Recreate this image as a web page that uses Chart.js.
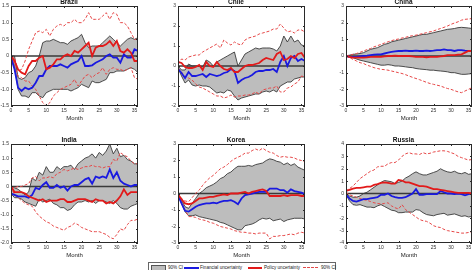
<!DOCTYPE html>
<html>
<head>
<meta charset="utf-8">
<script src="https://cdn.jsdelivr.net/npm/chart.js@4.4.1/dist/chart.umd.min.js"></script>
<style>
body{margin:0;background:#fff;width:474px;height:270px;overflow:hidden;position:relative;font-family:"Liberation Sans",Arial,sans-serif}
canvas{position:absolute}
#legend{position:absolute;left:148px;top:262px;width:186px;height:10px;border:1px solid #666;background:#fff;font-size:4.6px;color:#222;white-space:nowrap}
#legend span{position:absolute;top:2px}
#legend i{position:absolute;display:block}
</style>
</head>
<body>
<canvas id="c1" width="140" height="124" style="left:0;top:-2px"></canvas>
<canvas id="c2" width="140" height="124" style="left:167px;top:-2px"></canvas>
<canvas id="c3" width="139" height="124" style="left:335px;top:-2px"></canvas>
<canvas id="c4" width="140" height="123" style="left:0;top:136px"></canvas>
<canvas id="c5" width="140" height="123" style="left:167px;top:136px"></canvas>
<canvas id="c6" width="139" height="123" style="left:335px;top:136px"></canvas>
<div id="legend">
  <i style="left:2px;top:2px;width:13px;height:4px;background:#bdbdbd;border:1px solid #555"></i><span style="left:19px">90% CI</span>
  <i style="left:35px;top:4px;width:15px;height:1.6px;background:#1a1ae0"></i><span style="left:51px">Financial uncertainty</span>
  <i style="left:99px;top:4px;width:14px;height:1.6px;background:#e21a1a"></i><span style="left:115px">Policy uncertainty</span>
  <i style="left:154px;top:4px;width:15px;height:0;border-top:1px dashed #e24a4a"></i><span style="left:172px">90% CI</span>
</div>
<script>
const months = [0,1,2,3,4,5,6,7,8,9,10,11,12,13,14,15,16,17,18,19,20,21,22,23,24,25,26,27,28,29,30,31,32,33,34,35,36];
const xTicks = [0,5,10,15,20,25,30,35];

// Brazil
const brazilRange = [-1.5, 1.5, 0.5];
const brazilUpper = [0,0,-0.65,-0.7,-0.65,-0.5,-0.45,-0.3,0,0.4,0.45,0.45,0.5,0.45,0.4,0.4,0.35,0.45,0.5,0.55,0.65,0.4,0.25,0.3,0.3,0.3,0.4,0.5,0.6,0.5,0.4,0.3,0.4,0.5,0.55,0.5,0.55];
const brazilLower = [0,-0.3,-1.0,-1.2,-1.2,-1.25,-1.1,-1.1,-1.2,-1.25,-1.1,-1.05,-1.0,-1.0,-1.0,-1.0,-1.0,-1.05,-1.0,-0.95,-0.85,-0.9,-0.95,-0.75,-0.8,-0.8,-0.75,-0.7,-0.5,-0.5,-0.45,-0.45,-0.45,-0.4,-0.35,-0.4,-0.5];
const brazilFin = [-0.05,-0.4,-0.95,-1.05,-0.95,-1.0,-0.95,-0.8,-0.6,-0.6,-0.4,-0.3,-0.3,-0.3,-0.25,-0.3,-0.35,-0.25,-0.2,-0.15,0,-0.3,-0.3,-0.28,-0.2,-0.15,-0.1,0,0.05,-0.05,-0.05,-0.2,0.05,-0.05,-0.05,0.2,0.15];
const brazilPol = [0,-0.15,-0.4,-0.5,-0.55,-0.3,-0.15,-0.15,-0.05,0,-0.4,-0.35,-0.25,-0.1,-0.1,0,0.05,0,0.15,0.1,0.2,0.3,0.4,0,0.25,0.3,0.3,0.35,0.45,0.3,0.45,0.15,0.1,0.2,0.1,-0.15,-0.15];
const brazilPolHi = [0,-0.05,-0.45,-0.4,-0.15,0.2,0.45,0.7,0.75,0.7,0.8,0.6,0.8,0.9,0.95,0.9,1.0,1.0,1.1,1.0,1.0,1.1,1.3,1.1,1.1,1.1,1.2,1.3,1.1,1.3,1.25,1.0,1.0,0.9,0.7,0.5,0.5];
const brazilPolLo = [0,-0.3,-0.6,-0.65,-0.75,-0.75,-0.9,-1.0,-1.2,-1.4,-1.5,-1.4,-1.2,-1.1,-1.0,-0.95,-0.9,-0.85,-0.7,-0.9,-0.75,-0.6,-0.55,-0.65,-0.55,-0.5,-0.35,-0.55,-0.4,-0.35,-0.4,-0.4,-0.45,-0.4,-0.35,-0.65,-0.7];

// Chile
const chileRange = [-2, 3, 1];
const chileUpper = [0,-0.2,-0.2,0.1,0,0,0,-0.05,0.3,0.2,0,0.2,0.3,0.4,0.5,0.6,0.7,0,0.3,0.6,0.7,0.8,0.9,0.85,0.9,0.9,0.9,0.85,0.75,1.0,1.5,1.2,1.5,1.2,1.3,1.05,1.0];
const chileLower = [-0.1,-0.5,-0.85,-0.7,-0.95,-1.0,-0.95,-1.0,-1.0,-1.05,-1.2,-1.35,-1.3,-1.35,-1.2,-1.25,-1.5,-1.7,-1.6,-1.55,-1.5,-1.45,-1.4,-1.4,-1.3,-1.25,-1.3,-1.2,-1.3,-1.0,-0.9,-0.8,-0.8,-0.65,-0.6,-0.55,-0.55];
const chileFin = [-0.15,-0.35,-0.6,-0.3,-0.5,-0.5,-0.45,-0.4,-0.55,-0.4,-0.45,-0.5,-0.45,-0.35,-0.3,-0.15,-0.25,-0.85,-0.7,-0.6,-0.55,-0.45,-0.3,-0.25,-0.25,-0.2,-0.2,-0.15,-0.3,0.2,0.5,0,0.4,0.5,0.25,0.35,0.25];
const chilePol = [0.2,0.15,-0.05,-0.1,-0.1,-0.05,0.05,-0.2,0.2,0,-0.05,0.2,0,-0.15,-0.2,-0.1,-0.3,-0.3,-0.15,0,0.05,0.05,0.1,0.15,0.3,0.4,0.35,0.3,0.6,0.7,0.3,0.35,0.5,0.4,0.6,0.65,0.4];
const chilePolHi = [0.1,0.35,0.3,0.45,0.5,0.55,0.55,0.7,0.8,0.9,1.0,1.1,0.9,1.3,1.15,1.05,1.2,1.1,1.05,1.3,1.4,1.45,1.5,1.6,1.65,1.7,1.75,1.85,1.85,2.1,1.9,1.7,1.75,1.65,1.8,1.8,1.7];
const chilePolLo = [-0.1,-0.3,-0.55,-0.6,-0.7,-0.9,-1.05,-1.1,-1.2,-1.3,-1.4,-1.5,-1.5,-1.6,-1.55,-1.45,-1.55,-1.5,-1.5,-1.45,-1.45,-1.4,-1.3,-1.4,-1.2,-1.15,-1.1,-1.1,-1.0,-1.3,-1.3,-1.1,-1.05,-0.9,-0.8,-0.5,-0.55];

// China
const chinaRange = [-3, 3, 1];
const chinaUpper = [0,0.05,0.1,0.12,0.15,0.2,0.3,0.4,0.45,0.5,0.6,0.7,0.75,0.85,0.9,0.95,1.0,1.05,1.1,1.15,1.2,1.25,1.3,1.3,1.35,1.4,1.45,1.5,1.55,1.6,1.62,1.65,1.7,1.72,1.7,1.68,1.65];
const chinaLower = [0,-0.05,-0.1,-0.18,-0.25,-0.3,-0.35,-0.4,-0.45,-0.5,-0.55,-0.55,-0.52,-0.55,-0.6,-0.6,-0.62,-0.65,-0.68,-0.7,-0.75,-0.78,-0.8,-0.82,-0.85,-0.85,-0.88,-0.9,-0.92,-0.95,-1.0,-1.0,-1.05,-1.1,-1.1,-1.08,-1.05];
const chinaFin = [0,-0.05,-0.05,-0.05,-0.02,0,0.02,0.05,0.08,0.1,0.1,0.15,0.2,0.25,0.28,0.3,0.3,0.32,0.3,0.3,0.32,0.3,0.3,0.32,0.3,0.32,0.35,0.35,0.4,0.35,0.35,0.3,0.35,0.35,0.32,0.3,0.3];
const chinaPol = [0,-0.05,-0.1,-0.1,-0.1,-0.1,-0.08,-0.05,-0.05,-0.05,-0.05,-0.02,0,0,0.02,0,0,0,0,-0.02,-0.05,-0.05,-0.05,-0.08,-0.05,-0.05,-0.05,-0.02,0,0.05,0.05,0.05,0.08,0.1,0.2,0.3,0.3];
const chinaPolHi = [0,0.05,0.1,0.15,0.22,0.3,0.38,0.45,0.55,0.62,0.7,0.78,0.85,0.92,0.98,1.02,1.08,1.12,1.18,1.22,1.25,1.3,1.35,1.4,1.45,1.5,1.58,1.65,1.72,1.8,1.9,1.98,2.05,2.15,2.2,2.22,2.25];
const chinaPolLo = [0,-0.1,-0.2,-0.3,-0.4,-0.45,-0.55,-0.62,-0.7,-0.75,-0.8,-0.82,-0.85,-0.9,-0.95,-1.0,-1.05,-1.12,-1.2,-1.28,-1.35,-1.42,-1.5,-1.58,-1.65,-1.7,-1.75,-1.8,-1.88,-1.95,-2.0,-2.08,-2.15,-2.2,-2.1,-2.0,-1.9];

// India
const indiaRange = [-2, 1.5, 0.5];
const indiaUpper = [0,-0.05,-0.1,-0.2,-0.3,-0.2,0.3,0.2,0.5,0.4,0.7,0.5,0.5,0.7,0.6,0.7,0.7,0.75,0.6,0.8,0.9,1.0,1.05,1.15,1.0,1.2,1.1,1.25,1.5,1.15,1.35,1.05,1.1,0.95,0.9,0.8,0.8];
const indiaLower = [-0.25,-0.4,-0.4,-0.45,-0.55,-0.6,-0.65,-0.7,-0.45,-0.55,-0.5,-0.45,-0.6,-0.65,-0.75,-0.75,-0.85,-0.8,-0.65,-0.55,-0.55,-0.5,-0.55,-0.5,-0.6,-0.5,-0.5,-0.55,-0.6,-0.5,-0.6,-0.75,-0.8,-0.8,-0.7,-0.65,-0.6];
const indiaFin = [-0.25,-0.3,-0.35,-0.35,-0.35,-0.4,-0.3,-0.05,-0.1,0.05,0.15,-0.05,-0.05,0.05,-0.05,0,-0.15,0,0.05,0.05,0.15,0.25,0.3,0.1,0.35,0.3,0.35,0.3,0.6,0.3,0.5,0.2,0.1,0.05,0,0.05,0.05];
const indiaPol = [0,-0.2,-0.2,-0.2,-0.25,-0.35,-0.4,-0.45,-0.5,-0.45,-0.55,-0.5,-0.5,-0.5,-0.45,-0.45,-0.55,-0.55,-0.5,-0.45,-0.45,-0.45,-0.5,-0.55,-0.45,-0.5,-0.5,-0.6,-0.55,-0.6,-0.5,-0.35,-0.1,-0.3,-0.2,-0.2,-0.2];
const indiaPolHi = [0,-0.05,0,0,0.05,0.1,0.3,0.35,0.2,0.3,0.3,0.35,0.3,0.45,0.5,0.6,0.55,0.6,0.65,0.6,0.65,0.7,0.7,0.75,0.7,0.7,0.65,0.7,0.7,0.95,0.9,1.2,1.1,1.05,0.9,0.8,0.8];
const indiaPolLo = [0,-0.3,-0.4,-0.5,-0.6,-0.65,-0.7,-0.9,-1.05,-1.15,-1.25,-1.3,-1.4,-1.45,-1.5,-1.55,-1.45,-1.4,-1.3,-1.35,-1.45,-1.5,-1.55,-1.6,-1.6,-1.6,-1.65,-1.7,-1.8,-1.85,-1.7,-1.5,-1.55,-1.35,-1.2,-1.2,-1.15];

// Korea
const koreaRange = [-3, 3, 1];
const koreaUpper = [0,-0.4,-0.8,-0.9,-0.6,-0.3,0,0.15,0.35,0.45,0.55,0.7,0.9,1.0,1.2,1.3,1.5,1.65,1.65,1.65,1.7,1.65,1.75,1.8,1.85,2.0,2.1,2.05,1.95,1.9,1.75,1.85,1.7,1.8,1.6,1.5,1.4];
const koreaLower = [-0.1,-0.6,-1.1,-1.35,-1.35,-1.3,-1.4,-1.45,-1.5,-1.55,-1.6,-1.65,-1.75,-1.8,-1.9,-2.0,-2.1,-2.2,-2.2,-1.95,-1.9,-1.85,-1.75,-1.6,-1.5,-1.55,-1.5,-1.65,-1.6,-1.55,-1.7,-1.6,-1.55,-1.5,-1.5,-1.5,-1.55];
const koreaFin = [-0.1,-0.6,-1.05,-1.1,-0.95,-0.8,-0.7,-0.65,-0.6,-0.6,-0.55,-0.6,-0.5,-0.45,-0.45,-0.4,-0.5,-0.65,-0.3,-0.1,-0.05,0,0.05,0.1,0.1,0.1,0.3,0.3,0.3,0.2,0.2,0.05,0.25,0.15,0.1,0.05,-0.05];
const koreaPol = [-0.05,-0.35,-0.6,-0.65,-0.6,-0.45,-0.3,-0.3,-0.25,-0.2,-0.2,-0.15,-0.1,-0.05,-0.1,0,0,0,0.05,0.1,0,0.1,0.15,0.2,0.25,0.15,-0.15,-0.15,-0.15,-0.15,-0.1,-0.15,-0.1,-0.1,-0.1,-0.15,-0.15];
const koreaPolHi = [0,-0.3,-0.45,-0.5,-0.25,0,0.2,0.5,0.75,0.95,1.1,1.3,1.5,1.6,1.75,1.95,2.1,2.2,2.3,2.45,2.45,2.6,2.7,2.6,2.75,2.6,2.5,2.45,2.3,2.2,2.25,2.2,2.2,2.15,2.05,2.0,1.9];
const koreaPolLo = [-0.1,-0.5,-1.0,-1.4,-1.4,-1.45,-1.55,-1.6,-1.65,-1.75,-1.8,-1.9,-2.0,-2.05,-2.1,-2.15,-2.25,-2.3,-2.35,-2.35,-2.4,-2.4,-2.45,-2.4,-2.4,-2.4,-2.75,-2.6,-2.6,-2.55,-2.55,-2.5,-2.45,-2.5,-2.4,-2.35,-2.4];

// Russia
const russiaRange = [-4, 4, 1];
const russiaUpper = [0,-0.2,-0.3,-0.3,-0.2,0,0.1,0.3,0.5,0.7,0.9,1.05,1.0,0.95,0.8,0.9,1.0,1.25,1.4,1.6,1.75,1.6,1.5,1.5,1.6,1.7,1.8,2.0,1.85,1.75,1.7,1.8,1.65,1.6,1.7,1.55,1.6];
const russiaLower = [-0.1,-0.6,-0.9,-0.95,-0.9,-1.0,-1.1,-1.1,-1.15,-1.0,-0.9,-1.05,-1.2,-1.35,-1.4,-1.55,-1.55,-1.5,-1.5,-1.5,-1.3,-1.35,-1.55,-1.7,-1.75,-1.8,-1.7,-1.65,-1.6,-1.75,-1.7,-1.65,-1.75,-1.85,-1.8,-1.9,-1.85];
const russiaFin = [-0.1,-0.4,-0.6,-0.65,-0.55,-0.45,-0.45,-0.4,-0.35,-0.3,-0.1,-0.1,0,-0.2,-0.3,-0.35,-0.35,-0.3,-0.15,0,0.35,-0.1,-0.1,-0.05,-0.05,-0.05,-0.05,0.2,0.1,0,0,-0.05,0,-0.05,-0.15,-0.05,0];
const russiaPol = [0.2,0.3,0.4,0.45,0.45,0.5,0.55,0.55,0.7,0.75,0.85,0.9,0.85,0.8,0.8,1.1,1.05,0.9,0.9,0.8,0.7,0.6,0.6,0.55,0.45,0.35,0.35,0.3,0.25,0.2,0.15,0.1,0.05,0.05,0.05,0.05,0];
const russiaPolHi = [0.2,0.4,0.6,0.9,1.2,1.4,1.6,1.8,1.9,2.15,2.2,2.2,2.4,2.5,2.5,2.7,3.0,3.2,3.3,3.2,3.2,3.15,3.3,3.2,3.25,3.35,3.4,3.45,3.45,3.4,3.3,3.2,3.0,2.9,2.8,2.7,2.75];
const russiaPolLo = [0.1,-0.1,-0.2,-0.3,-0.4,-0.5,-0.55,-0.65,-0.75,-0.8,-0.85,-0.8,-0.75,-1.0,-1.15,-1.25,-0.9,-1.3,-1.5,-1.7,-1.9,-2.1,-2.2,-2.25,-2.4,-2.6,-2.7,-2.75,-2.9,-3.0,-3.05,-3.1,-3.15,-3.2,-3.2,-3.15,-3.1];

const FONT = '"Liberation Sans", Arial, sans-serif';

// box round the plot with inward ticks on all four sides
const framePlugin = {
  id: 'frame',
  afterDatasetsDraw(chart) {
    const {ctx, chartArea: a, scales} = chart;
    ctx.save();
    ctx.strokeStyle = '#2a2a2a';
    ctx.lineWidth = 1;
    ctx.strokeRect(a.left + 0.5, a.top + 0.5, a.right - a.left - 1, a.bottom - a.top - 1);
    ctx.beginPath();
    scales.x.ticks.forEach(t => {
      const px = Math.round(scales.x.getPixelForValue(t.value)) + 0.5;
      ctx.moveTo(px, a.bottom); ctx.lineTo(px, a.bottom - 2);
      ctx.moveTo(px, a.top); ctx.lineTo(px, a.top + 2);
    });
    scales.y.ticks.forEach(t => {
      const py = Math.round(scales.y.getPixelForValue(t.value)) + 0.5;
      ctx.moveTo(a.left, py); ctx.lineTo(a.left + 2, py);
      ctx.moveTo(a.right, py); ctx.lineTo(a.right - 2, py);
    });
    ctx.stroke();
    ctx.restore();
  }
};

function pts(arr) {
  return months.map((m, i) => ({x: m, y: arr[i]}));
}

function panel(id, title, range, upper, lower, fin, pol, polHi, polLo) {
  const zero = [{x: months[0], y: 0}, {x: months[months.length - 1], y: 0}];
  new Chart(document.getElementById(id), {
    type: 'line',
    data: {
      datasets: [
        {data: pts(pol), borderColor: '#e21a1a', borderWidth: 1.8},
        {data: pts(fin), borderColor: '#1a1ae0', borderWidth: 1.8},
        {data: pts(polHi), borderColor: '#e64848', borderWidth: 1, borderDash: [3, 1.8]},
        {data: pts(polLo), borderColor: '#e64848', borderWidth: 1, borderDash: [3, 1.8]},
        {data: zero, borderColor: '#3a3a3a', borderWidth: 1.4},
        {data: pts(lower), borderColor: '#3a3a3a', borderWidth: 0.9},
        {data: pts(upper), borderColor: '#3a3a3a', borderWidth: 0.9, fill: '-1', backgroundColor: '#bdbdbd'}
      ]
    },
    options: {
      responsive: false,
      animation: false,
      layout: {padding: {left: 0, right: 2, top: 0, bottom: 0}},
      elements: {point: {radius: 0}, line: {tension: 0}},
      plugins: {
        legend: {display: false},
        tooltip: {enabled: false},
        title: {
          display: true, text: title, color: '#111',
          font: {family: FONT, size: 6.5, weight: 'bold', lineHeight: 1.2},
          padding: {top: 0, bottom: 0.2}
        }
      },
      scales: {
        x: {
          type: 'linear', min: 0, max: 36,
          grid: {display: false, drawTicks: false}, border: {display: false},
          ticks: {padding: 1.5, maxRotation: 0, autoSkip: false, color: '#333', font: {family: FONT, size: 5}},
          afterBuildTicks: s => { s.ticks = xTicks.map(v => ({value: v})); },
          title: {display: true, text: 'Month', color: '#222', padding: {top: 0, bottom: 0.4}, font: {family: FONT, size: 6, lineHeight: 1.2}},
          afterFit: s => { s.height = 16; }
        },
        y: {
          min: range[0], max: range[1],
          grid: {display: false, drawTicks: false}, border: {display: false},
          ticks: {stepSize: range[2], padding: 2, color: '#333', font: {family: FONT, size: 5}},
          afterFit: s => { s.width = 11; }
        }
      }
    },
    plugins: [framePlugin]
  });
}

panel('c1', 'Brazil', brazilRange, brazilUpper, brazilLower, brazilFin, brazilPol, brazilPolHi, brazilPolLo);
panel('c2', 'Chile', chileRange, chileUpper, chileLower, chileFin, chilePol, chilePolHi, chilePolLo);
panel('c3', 'China', chinaRange, chinaUpper, chinaLower, chinaFin, chinaPol, chinaPolHi, chinaPolLo);
panel('c4', 'India', indiaRange, indiaUpper, indiaLower, indiaFin, indiaPol, indiaPolHi, indiaPolLo);
panel('c5', 'Korea', koreaRange, koreaUpper, koreaLower, koreaFin, koreaPol, koreaPolHi, koreaPolLo);
panel('c6', 'Russia', russiaRange, russiaUpper, russiaLower, russiaFin, russiaPol, russiaPolHi, russiaPolLo);
</script>
</body>
</html>
